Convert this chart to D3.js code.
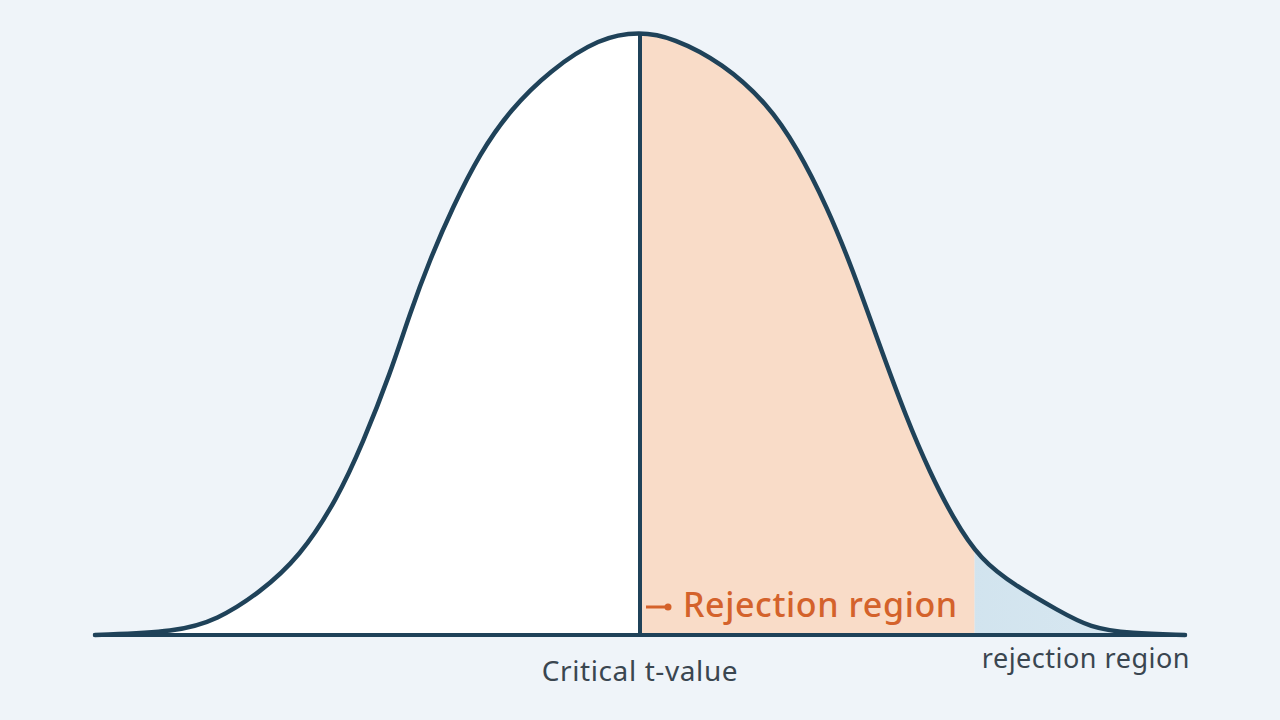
<!DOCTYPE html>
<html lang="en">
<head>
<meta charset="UTF-8">
<script src="https://d3js.org/d3.v7.min.js"></script>
<title>Critical t-value</title>
<style>
  html, body { margin: 0; padding: 0; background: #eff4f9; }
  svg { display: block; }
</style>
</head>
<body>
<div id="chart"></div>
<script>
// t positions and density values
var tValues = [-5, -4.25, -3.88, -3.49, -3.12, -2.78, -2.54, -2.29, -2.11, -1.93, -1.72, -1.47, -1.19, -0.83, -0.37,
               0, 0.3, 0.76, 1.17, 1.44, 1.72, 1.95, 2.17, 2.45, 2.66, 2.87, 3.12, 3.46, 3.83, 4.13, 4.5, 5];
var density = [0, 0.002, 0.010, 0.028, 0.052, 0.090, 0.128, 0.174, 0.214, 0.249, 0.284, 0.320, 0.349, 0.375, 0.397,
               0.401, 0.397, 0.380, 0.353, 0.324, 0.284, 0.243, 0.198, 0.143, 0.108, 0.078, 0.050, 0.032, 0.0166, 0.0047, 0.001, 0];
var criticalT = 0;         // vertical line
var rejectionStart = 3.07; // start of the blue tail
var rejectionEnd = 4.3;
var labels = { critical: "Critical t-value", main: "Rejection region", tail: "rejection region" };

var width = 1280, height = 720;
var data = tValues.map(function(t, i) { return { t: t, d: density[i] }; });

var svg = d3.select("#chart").append("svg")
  .attr("width", width)
  .attr("height", height);

var x = d3.scaleLinear().domain([-5, 5]).range([95, 1185]);
var y = d3.scaleLinear().domain([0, 0.4]).range([635, 33]);

var area = d3.area()
  .x(function(d) { return x(d.t); })
  .y0(y(0))
  .y1(function(d) { return y(d.d); })
  .curve(d3.curveBasis);

var line = d3.line()
  .x(function(d) { return x(d.t); })
  .y(function(d) { return y(d.d); })
  .curve(d3.curveBasis);

var defs = svg.append("defs");
function clip(id, a, b) {
  defs.append("clipPath").attr("id", id)
    .append("rect")
    .attr("x", x(a)).attr("y", 0)
    .attr("width", x(b) - x(a)).attr("height", height);
}
clip("clip-left", -5, criticalT);
clip("clip-mid", criticalT, rejectionStart);
clip("clip-tail", rejectionStart, rejectionEnd);

var grad = defs.append("linearGradient").attr("id", "tailGrad")
  .attr("x1", "0%").attr("x2", "100%");
grad.append("stop").attr("offset", "0%").attr("stop-color", "#b3d2e4");
grad.append("stop").attr("offset", "100%").attr("stop-color", "#d9e8f1");

svg.append("path").datum(data)
  .attr("d", area)
  .attr("fill", "#ffffff")
  .attr("clip-path", "url(#clip-left)");

svg.append("path").datum(data)
  .attr("d", area)
  .attr("fill", "#f9dcc8")
  .attr("clip-path", "url(#clip-mid)");

svg.append("path").datum(data)
  .attr("d", area)
  .attr("fill", "url(#tailGrad)")
  .attr("clip-path", "url(#clip-tail)");

// baseline
svg.append("line")
  .attr("x1", x(-5)).attr("x2", x(5))
  .attr("y1", y(0)).attr("y2", y(0))
  .attr("stroke", "#1f4259")
  .attr("stroke-width", 4)
  .attr("stroke-linecap", "round");

// critical value line
svg.append("line")
  .attr("x1", x(criticalT)).attr("x2", x(criticalT))
  .attr("y1", y(0)).attr("y2", y(0.4))
  .attr("stroke", "#1f4259")
  .attr("stroke-width", 4);

// curve
svg.append("path").datum(data)
  .attr("d", line)
  .attr("fill", "none")
  .attr("stroke", "#1f4259")
  .attr("stroke-width", 4.5)
  .attr("stroke-linecap", "round");

// annotation
svg.append("line")
  .attr("x1", x(criticalT) + 6).attr("x2", x(criticalT) + 27)
  .attr("y1", 607).attr("y2", 607)
  .attr("stroke", "#d4622b")
  .attr("stroke-width", 3);
svg.append("circle")
  .attr("cx", x(criticalT) + 28).attr("cy", 607).attr("r", 3.5)
  .attr("fill", "#d4622b");

svg.append("text")
  .text(labels.main)
  .attr("x", x(criticalT) + 43)
  .attr("y", 617)
  .attr("font-family", "'Noto Sans', sans-serif")
  .attr("font-size", 34)
  .attr("font-weight", 500)
  .attr("letter-spacing", 0.6)
  .attr("fill", "#d4622b");

svg.append("text")
  .text(labels.critical)
  .attr("x", x(criticalT))
  .attr("y", 681)
  .attr("text-anchor", "middle")
  .attr("font-family", "'Noto Sans', sans-serif")
  .attr("font-size", 28)
  .attr("letter-spacing", 0.6)
  .attr("fill", "#3a4650");

svg.append("text")
  .text(labels.tail)
  .attr("x", 1190)
  .attr("y", 668)
  .attr("text-anchor", "end")
  .attr("font-family", "'Noto Sans', sans-serif")
  .attr("font-size", 27)
  .attr("letter-spacing", 0.5)
  .attr("fill", "#3a4650");
</script>
</body>
</html>
